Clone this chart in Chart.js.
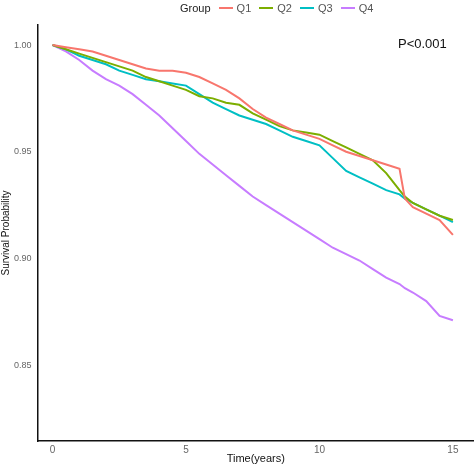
<!DOCTYPE html><html><head><script src="https://cdn.jsdelivr.net/npm/chart.js"></script>
<style>body{margin:0;background:#fff;font-family:Arial,"Liberation Sans",sans-serif}
#wrap{position:relative;width:474px;height:466px}
#leg{position:absolute;top:2px;left:180px;font-size:11px;color:#222;display:flex;align-items:center;gap:4px}
#leg span.l{display:inline-block;width:14px;height:2px;margin-left:4px}
#p{position:absolute;left:398px;top:36px;font-size:13px;color:#111}</style></head><body>
<div id="wrap"><canvas id="c" width="474" height="466"></canvas>
<div id="leg">Group <span class="l" style="background:#F8766D"></span><span style="color:#555">Q1</span><span class="l" style="background:#7CAE00"></span><span style="color:#555">Q2</span><span class="l" style="background:#00BFC4"></span><span style="color:#555">Q3</span><span class="l" style="background:#C77CFF"></span><span style="color:#555">Q4</span></div>
<div id="p">P&lt;0.001</div></div>
<script>
const times=[0,0.5,1,1.5,2,2.5,3,3.5,4,4.5,5,5.5,6,6.5,7,7.5,8,8.5,9,9.5,10,10.5,11,11.5,12,12.5,13,13.2,13.5,14,14.5,15];
const q1=[1,0.999,0.998,0.997,0.995,0.993,0.991,0.989,0.988,0.988,0.987,0.985,0.982,0.979,0.975,0.970,0.966,0.963,0.960,0.958,0.956,0.953,0.950,0.948,0.946,0.944,0.942,0.928,0.924,0.921,0.918,0.911];
const q2=[1,0.998,0.996,0.994,0.992,0.990,0.988,0.985,0.983,0.981,0.979,0.976,0.975,0.973,0.972,0.968,0.965,0.962,0.960,0.959,0.958,0.955,0.952,0.949,0.946,0.940,0.932,0.929,0.926,0.923,0.920,0.918];
const q3=[1,0.998,0.995,0.993,0.991,0.988,0.986,0.984,0.983,0.982,0.981,0.977,0.973,0.970,0.967,0.965,0.963,0.960,0.957,0.955,0.953,0.947,0.941,0.938,0.935,0.932,0.930,0.928,0.926,0.923,0.920,0.917];
const q4=[1,0.997,0.993,0.988,0.984,0.981,0.977,0.972,0.967,0.961,0.955,0.949,0.944,0.939,0.934,0.929,0.925,0.921,0.917,0.913,0.909,0.905,0.902,0.899,0.895,0.891,0.888,0.886,0.884,0.880,0.873,0.871];
const xTicks=[0,5,10,15], yTicks=[0.85,0.90,0.95,1.00];
const mk=(d,c)=>({data:times.map((t,i)=>({x:t,y:d[i]})),borderColor:c,borderWidth:2,pointRadius:0,tension:0,fill:false});
new Chart(document.getElementById('c'),{type:'line',data:{datasets:[mk(q1,'#F8766D'),mk(q2,'#7CAE00'),mk(q3,'#00BFC4'),mk(q4,'#C77CFF')]},
options:{responsive:false,animation:false,layout:{padding:{top:25,right:0,bottom:0}},plugins:{legend:{display:false},tooltip:{enabled:false}},
scales:{x:{type:'linear',min:-0.5625,max:15.79,afterFit:a=>{a.height=25},afterBuildTicks:a=>{a.ticks=xTicks.map(v=>({value:v}))},grid:{display:false,drawTicks:true,tickLength:3,tickColor:'#333'},border:{color:'#111',width:1.5},ticks:{color:'#666',font:{size:10},padding:0,callback:v=>v},title:{display:true,text:'Time(years)',color:'#111',font:{size:11},padding:0}},
y:{min:0.8144,max:1.0094,afterBuildTicks:a=>{a.ticks=yTicks.map(v=>({value:v}))},grid:{display:false,tickLength:4,tickColor:'#333'},border:{color:'#111',width:1.5},ticks:{color:'#666',font:{size:9},padding:2,callback:v=>v.toFixed(2)},title:{display:true,text:'Survival Probability',color:'#111',font:{size:10},padding:0}}}}});
</script></body></html>
